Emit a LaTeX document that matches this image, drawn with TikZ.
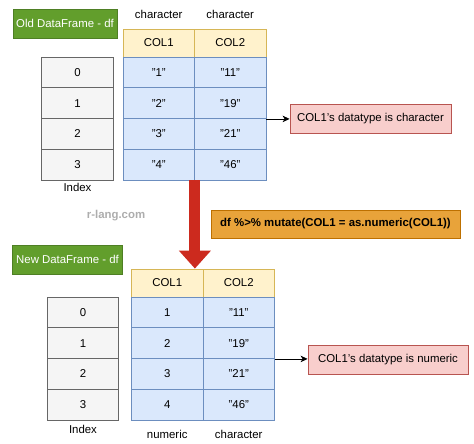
\documentclass[tikz,border=0pt]{standalone}
\usepackage{fontspec}
\setmainfont{Liberation Sans}
\usetikzlibrary{arrows.meta}
\newcommand{\dfsize}{\fontsize{11.4}{13}\selectfont}
\definecolor{mgreen}{HTML}{629E2C}
\definecolor{mgreenline}{HTML}{4E7F24}
\definecolor{hfill}{HTML}{FFF2CC}
\definecolor{hline}{HTML}{D6B656}
\definecolor{cfill}{HTML}{DAE8FC}
\definecolor{cline}{HTML}{6C8EBF}
\definecolor{ifill}{HTML}{F5F5F5}
\definecolor{iline}{HTML}{666666}
\definecolor{nfill}{HTML}{F8CECC}
\definecolor{nline}{HTML}{B85450}
\definecolor{ofill}{HTML}{E8A33A}
\definecolor{oline}{HTML}{BD7000}
\definecolor{mred}{HTML}{CC2A1E}
\tikzset{
  box/.style = {draw, line width = 0.8, inner sep = 0, minimum width = 71.5},
  head/.style = {box, draw = hline, fill = hfill, minimum height = 28},
  cell/.style = {box, draw = cline, fill = cfill, minimum height = 30.75},
  idx/.style = {box, draw = iline, fill = ifill, minimum height = 30.75},
  title/.style = {draw = mgreenline, fill = mgreen, text = white, line width = 0.8,
    minimum height = 29, inner sep = 0},
  note/.style = {draw = nline, fill = nfill, line width = 0.8, minimum height = 29, inner sep = 0},
  lbl/.style = {anchor = base, inner sep = 0},
  pointer/.style = {-{Stealth[length = 7, width = 6.5, inset = 2]}, line width = 0.8}
}

\begin{document}
\begin{tikzpicture}[x=1pt, y=-1pt, font=\dfsize]
      \useasboundingbox (0, 0) rectangle (474, 444);

      \node [title, minimum width = 104] (oldtitle) at (65, 23.5) {Old DataFrame - df};
      \foreach \c/\x/\t in {1/158.75/COL1, 2/230.25/COL2} {
        \node [head] (oh\c) at (\x, 43) {\t};
        \node [lbl] (ot\c) at (\x, 19) {character};
      }
      \foreach \r/\a/\b in {0/"1"/"11", 1/"2"/"19", 2/"3"/"21", 3/"4"/"46"} {
        \node [idx] (oi\r) at (77.5, 72.4 + \r*30.75) {\r};
        \node [cell] (oa\r) at (158.75, 72.4 + \r*30.75) {\a};
        \node [cell] (ob\r) at (230.25, 72.4 + \r*30.75) {\b};
      }
      \node [lbl] (oindex) at (77.5, 191) {Index};

      \node [note, minimum width = 161] (onote) at (370.5, 118.5) {COL1's datatype is character};
      \draw [pointer] (ob1.south east) -- (ob1.south east -| onote.west);

      \node [lbl, font = \dfsize\bfseries, text = black!32] (site) at (116, 218) {r-lang.com};
      \node [draw = oline, fill = ofill, line width = 0.8, minimum width = 249, minimum height = 28,
        inner sep = 0, font = \dfsize\bfseries] (mutate) at (335.5, 224) {df \%>\% mutate(COL1 = as.numeric(COL1))};

      \node [title, minimum width = 110] (newtitle) at (67.5, 259.5) {New DataFrame - df};
      \foreach \c/\x in {1/167.25, 2/238.75} {
        \node [head] (nh\c) at (\x, 283) {COL\c};
      }
      \foreach \r/\a/\b in {0/1/"11", 1/2/"19", 2/3/"21", 3/4/"46"} {
        \node [idx] (ni\r) at (83, 312.4 + \r*30.75) {\r};
        \node [cell] (na\r) at (167.25, 312.4 + \r*30.75) {\a};
        \node [cell] (nb\r) at (238.75, 312.4 + \r*30.75) {\b};
      }
      \node [lbl] (nindex) at (83, 433) {Index};
      \node [lbl] (nt1) at (167.25, 438) {numeric};
      \node [lbl] (nt2) at (238.75, 438) {character};

      \node [note, minimum width = 160] (nnote) at (388, 359.5) {COL1's datatype is numeric};
      \draw [pointer] (nb1.south east) -- (nb1.south east -| nnote.west);

      \draw [mred, line width = 11, -{Triangle[length = 18pt, width = 31pt]}]
        (oa3.south east) -- (oa3.south east |- nh1.north);
    \end{tikzpicture}
\end{document}
